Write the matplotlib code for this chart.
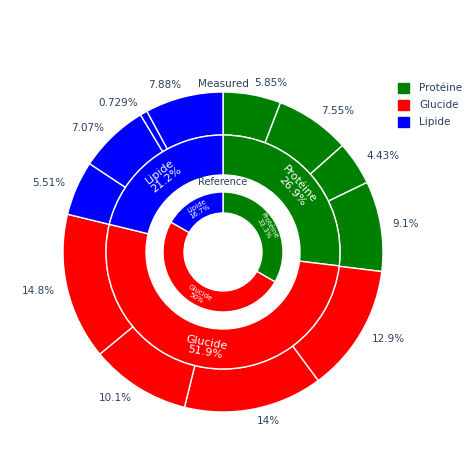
import matplotlib
matplotlib.use("Agg")
import matplotlib.pyplot as plt
import numpy as np

groups = ["Protéine", "Glucide", "Lipide"]
colors = ["#008000", "#ff0000", "#0000ff"]
measured_group = [26.9, 51.9, 21.2]
measured_children = [[5.85, 7.55, 4.43, 9.1], [12.9, 14.0, 10.1, 14.8], [5.51, 7.07, 0.729, 7.88]]
measured_child_labels = [["5.85%", "7.55%", "4.43%", "9.1%"], ["12.9%", "14%", "10.1%", "14.8%"],
                         ["5.51%", "7.07%", "0.729%", "7.88%"]]
reference_group = [33.3, 50.0, 16.7]
group_labels_m = ["26.9%", "51.9%", "21.2%"]
group_labels_r = ["33.3%", "50%", "16.7%"]

fig = plt.figure(figsize=(4.74, 4.74), dpi=100)
ax = fig.add_axes([0, 0, 1, 1])
cx, cy = 223, 222
txtc = "#2a3f5f"

def ring(vals, cols, r_out, width, lw=1):
    ax.pie(vals, colors=cols, radius=r_out, center=(cx, cy), startangle=90, counterclock=False,
           wedgeprops=dict(width=width, edgecolor="white", linewidth=lw), frame=True)

def mids(vals):
    tot = sum(vals); out = []; a = 90.0
    for v in vals:
        d = 360 * v / tot
        out.append(a - d / 2); a -= d
    return out

def tang(ang):
    r = ang - 90
    while r > 90: r -= 180
    while r <= -90: r += 180
    return r

child_vals = [v for g in measured_children for v in g]
child_cols = [colors[i] for i, g in enumerate(measured_children) for _ in g]
child_labs = [l for g in measured_child_labels for l in g]
ring(child_vals, child_cols, 160, 43)
ring(measured_group, colors, 117, 40)
ring(reference_group, colors, 60, 21)
ax.set_xlim(0, 474); ax.set_ylim(0, 474); ax.set_aspect("equal"); ax.axis("off")

for a, l in zip(mids(child_vals), child_labs):
    t = np.radians(a)
    x, y = cx + 172 * np.cos(t), cy + 172 * np.sin(t)
    ha = "left" if np.cos(t) > 0.05 else ("right" if np.cos(t) < -0.05 else "center")
    ax.text(x, y, l, ha=ha, va="center", fontsize=7.5, color=txtc)

for a, g, l in zip(mids(measured_group), groups, group_labels_m):
    t = np.radians(a)
    ax.text(cx + 97 * np.cos(t), cy + 97 * np.sin(t), g + "\n" + l, ha="center", va="center",
            fontsize=8, color="white", rotation=tang(a), linespacing=1.0)
for a, g, l in zip(mids(reference_group), groups, group_labels_r):
    t = np.radians(a)
    ax.text(cx + 50 * np.cos(t), cy + 50 * np.sin(t), g + "\n" + l, ha="center", va="center",
            fontsize=5, color="white", rotation=tang(a), linespacing=1.0)

ax.text(cx, 474 - 84, "Measured", ha="center", va="center", fontsize=7.5, color=txtc)
ax.text(cx, 474 - 182, "Reference", ha="center", va="center", fontsize=7, color=txtc)

for i, (g, c) in enumerate(zip(groups, colors)):
    y = 474 - (88 + 17 * i)
    ax.add_patch(plt.Rectangle((398, y - 5), 11, 10, color=c))
    ax.text(419, y, g, va="center", fontsize=7.5, color=txtc)

fig.savefig("out.png", dpi=100, facecolor="white")
